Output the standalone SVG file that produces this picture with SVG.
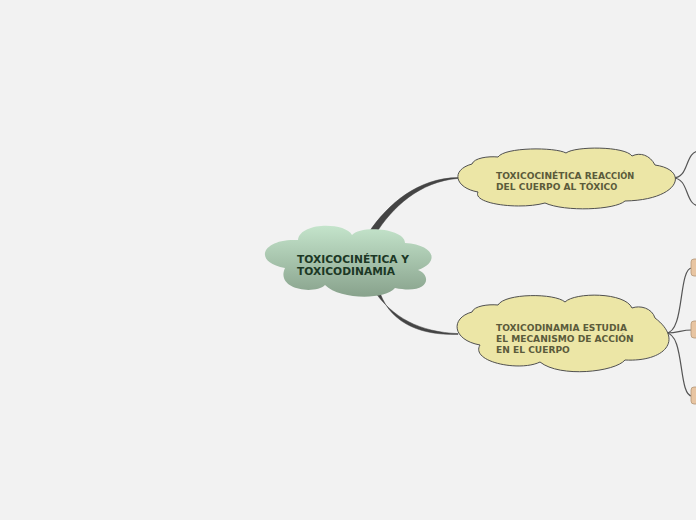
<svg xmlns="http://www.w3.org/2000/svg" width="696" height="520" viewBox="0 0 696 520">
<defs>
<linearGradient id="gMain" x1="0" y1="0" x2="0" y2="1">
<stop offset="0" stop-color="#c4e4cb"/>
<stop offset="1" stop-color="#88a28c"/>
</linearGradient>
<style>
.sub{fill:#ece6a6;stroke:#505050;stroke-width:1}
.conn{fill:none;stroke:#555;stroke-width:1.2}
.thick{fill:#444;stroke:#444;stroke-width:0.5}
.box{fill:#e8c5a2;stroke:#b39676;stroke-width:0.8}
.t{font-family:"DejaVu Sans",Verdana,sans-serif;font-weight:bold}
.tm{font-size:10.7px;fill:#1c3825}
.ts{font-size:9.1px;fill:#5b5b3b}
</style>
</defs>
<rect width="696" height="520" fill="#f2f2f2"/>
<g id="connectors">
<path class="thick" d="M369,232 C388,204 418,178 458,177.6 L458,178.4 C420,181.5 392,207 375,235 Z"/>
<path class="thick" d="M373,289 C392,318 420,332 458,333.6 L458,334.4 C418,335.5 388,322 378,287 Z"/>
<path class="conn" d="M673,178 C690,178 684,151 700,151"/>
<path class="conn" d="M673,178 C690,178 684,206 700,206"/>
<path class="conn" d="M666,333 C685,333 678,268 692,268"/>
<path class="conn" d="M666,333 C680,333 680,330 692,330"/>
<path class="conn" d="M666,333 C685,333 678,396 692,396"/>
</g>
<g id="main">
<path fill="url(#gMain)" d="M298,240 C262,238 252,262 285,268 C275,290 315,295 325,285 C340,300 385,300 395,288 C430,295 432,275 418,270 C440,262 435,245 405,243 C405,228 360,225 352,235 C345,222 300,222 298,240 Z"/>
<text class="t tm" x="297" y="263">TOXICOCINÉTICA Y</text>
<text class="t tm" x="297" y="275">TOXICODINAMIA</text>
</g>
<g id="cinetica">
<path class="sub" d="M472,164 C450,170 455,188 478,192 C472,204 520,210 545,203 C565,212 615,210 625,201 C680,200 690,170 655,165 C650,155 640,152 632,156 C625,146 575,146 566,153 C555,147 505,147 498,157 C488,156 474,158 472,164 Z"/>
<text class="t ts" x="496" y="179">TOXICOCINÉTICA REA<tspan font-size="8.3">CCIÓN</tspan></text>
<text class="t ts" x="496" y="190">DEL CUERPO AL TÓXIC<tspan font-size="8.3">O</tspan></text>
</g>
<g id="dinamia">
<path class="sub" d="M472,312 C450,318 452,340 480,345 C470,362 520,372 540,362 C560,378 615,372 625,360 C665,362 684,340 655,318 C652,308 640,305 632,308 C625,292 575,292 565,302 C555,293 505,293 498,305 C488,304 474,306 472,312 Z"/>
<text class="t ts" x="496" y="331">TOXICODINAMIA ESTUDIA</text>
<text class="t ts" x="496" y="342">EL MECANISMO DE ACCIÓN</text>
<text class="t ts" x="496" y="353">EN EL CUERPO</text>
</g>
<g id="box1"><rect class="box" x="691" y="259" width="20" height="17" rx="3"/></g>
<g id="box2"><rect class="box" x="691" y="321" width="20" height="17" rx="3"/></g>
<g id="box3"><rect class="box" x="691" y="387" width="20" height="17" rx="3"/></g>
</svg>
